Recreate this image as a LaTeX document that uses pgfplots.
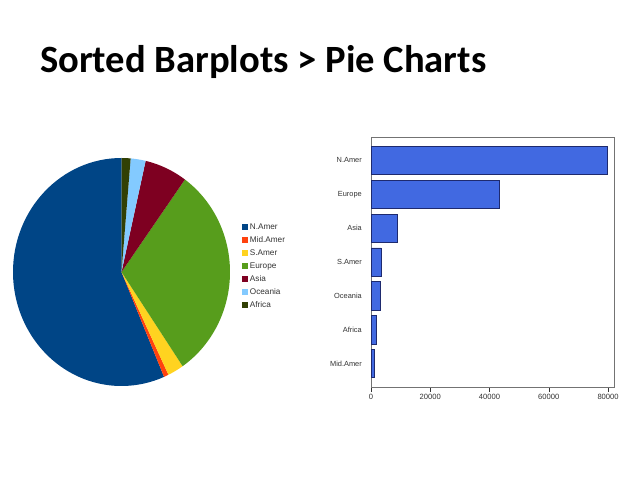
\documentclass[border=0pt]{standalone}
\usepackage{fontspec}
\setmainfont{Liberation Sans}
\newfontfamily\titlefont{Carlito}
\usepackage{pgfplots}
\usepackage{pgfplotstable}
\pgfplotsset{compat=1.18}

\definecolor{cNA}{HTML}{004586}
\definecolor{cMA}{HTML}{FF420E}
\definecolor{cSA}{HTML}{FFD320}
\definecolor{cEU}{HTML}{579D1C}
\definecolor{cAS}{HTML}{7E0021}
\definecolor{cOC}{HTML}{83CAFF}
\definecolor{cAF}{HTML}{314004}
\definecolor{barblue}{HTML}{4169E1}
\definecolor{bardraw}{HTML}{1E2A6E}
\definecolor{labelgray}{HTML}{333333}

% pie: counter-clockwise from 12 o'clock
\pgfplotstableread{
region   value colour
N.Amer   79800 cNA
Mid.Amer 1000  cMA
S.Amer   3400  cSA
Europe   43200 cEU
Asia     9000  cAS
Oceania  3150  cOC
Africa   1900  cAF
}\piedata

% sorted barplot, bottom to top
\pgfplotstableread{
pos value region
0.7 1000  Mid.Amer
1.9 1900  Africa
3.1 3150  Oceania
4.3 3400  S.Amer
5.5 9000  Asia
6.7 43200 Europe
7.9 79800 N.Amer
}\bardata

\pgfplotstablegetrowsof{\piedata}
\pgfmathtruncatemacro\lastrow{\pgfplotsretval-1}
\def\pietotal{0}
\pgfplotsforeachungrouped \i in {0,...,\lastrow}{%
  \pgfplotstablegetelem{\i}{value}\of\piedata
  \edef\pietotal{\fpeval{\pietotal+\pgfplotsretval}}%
}

\begin{document}
\begin{tikzpicture}
\useasboundingbox (0,0) rectangle (638pt,-478pt);
\fill[white] (0,0) rectangle (638pt,-478pt);

\node[anchor=base west, inner sep=0pt,
      font=\titlefont\bfseries\fontsize{38.6}{40}\selectfont]
  at (40pt,-72.7pt) {Sorted Barplots > Pie Charts};

% ---- pie chart (slightly stretched, as on the slide)
\begin{axis}[
  at={(121.5pt,-272pt)}, anchor=center,
  width=217pt, height=228pt, scale only axis,
  hide axis, clip=false,
  xmin=-1, xmax=1, ymin=-1, ymax=1,
  legend cell align=left,
  legend style={at={(1.055,0.526)}, anchor=west, draw=none, fill=none,
                inner sep=0pt, row sep=4.2pt,
                font=\fontsize{8.2}{9}\selectfont, text=labelgray,
                nodes={inner sep=0.6pt, text height=6pt, text depth=1.6pt},
                /tikz/every odd column/.append style={column sep=2pt}},
]
\def\startangle{90}
\pgfplotsforeachungrouped \i in {0,...,\lastrow}{%
  \pgfplotstablegetelem{\i}{value}\of\piedata \let\wval\pgfplotsretval
  \pgfplotstablegetelem{\i}{colour}\of\piedata \let\wcol\pgfplotsretval
  \edef\endangle{\fpeval{\startangle+360*\wval/\pietotal}}%
  \edef\temp{\noexpand\fill[\wcol] (axis cs:0,0) --
    (axis cs:{cos(\startangle)},{sin(\startangle)})
    arc[start angle=\startangle, end angle=\endangle,
        x radius=108.5pt, y radius=114pt] -- cycle;}%
  \temp
  \let\startangle\endangle
}
\addlegendimage{legend image code/.code={\fill[cNA] (0pt,-2.4pt) rectangle (4.8pt,2.4pt);}}
\addlegendentry{N.Amer}
\addlegendimage{legend image code/.code={\fill[cMA] (0pt,-2.4pt) rectangle (4.8pt,2.4pt);}}
\addlegendentry{Mid.Amer}
\addlegendimage{legend image code/.code={\fill[cSA] (0pt,-2.4pt) rectangle (4.8pt,2.4pt);}}
\addlegendentry{S.Amer}
\addlegendimage{legend image code/.code={\fill[cEU] (0pt,-2.4pt) rectangle (4.8pt,2.4pt);}}
\addlegendentry{Europe}
\addlegendimage{legend image code/.code={\fill[cAS] (0pt,-2.4pt) rectangle (4.8pt,2.4pt);}}
\addlegendentry{Asia}
\addlegendimage{legend image code/.code={\fill[cOC] (0pt,-2.4pt) rectangle (4.8pt,2.4pt);}}
\addlegendentry{Oceania}
\addlegendimage{legend image code/.code={\fill[cAF] (0pt,-2.4pt) rectangle (4.8pt,2.4pt);}}
\addlegendentry{Africa}
\end{axis}

% ---- sorted barplot
\begin{axis}[
  at={(371pt,-387pt)}, anchor=south west,
  width=243pt, height=250pt, scale only axis,
  xmin=0, xmax=82000, ymin=-0.128, ymax=8.728,
  axis line style={gray!90!black, line width=0.6pt},
  xtick={0,20000,40000,60000,80000},
  xtick pos=lower,
  scaled x ticks=false,
  tick align=outside,
  major tick length=5pt,
  xtick style={labelgray, line width=0.5pt},
  ytick=data,
  yticklabels from table={\bardata}{region},
  ytick style={draw=none},
  /pgf/number format/assume math mode=true,
  /pgf/number format/1000 sep={},
  xticklabel style={font=\fontsize{7.6}{8}\selectfont, text=labelgray, inner sep=1.5pt},
  yticklabel style={font=\fontsize{7.4}{8}\selectfont, text=labelgray, inner sep=0pt, xshift=-4pt},
]
\addplot[xbar, bar width=1.0, fill=barblue, draw=bardraw, line width=0.7pt]
  table[x=value, y=pos] {\bardata};
\end{axis}
\end{tikzpicture}
\end{document}
